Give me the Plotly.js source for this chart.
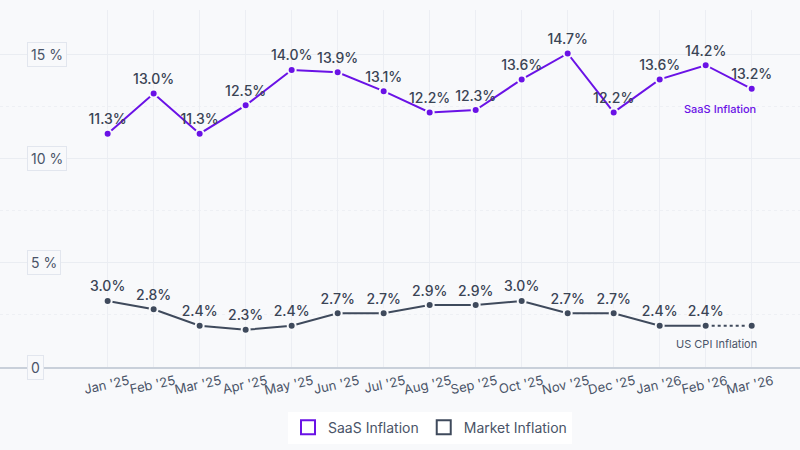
<!DOCTYPE html>
<html>
<head>
<meta charset="utf-8">
<script src="https://cdn.plot.ly/plotly-3.0.1.min.js"></script>
<style>
  html, body { margin: 0; padding: 0; background: #f8f9fb; }
  #chart { width: 800px; height: 450px; }
</style>
</head>
<body>
<div id="chart"></div>
<script>
const months = ["Jan '25", "Feb '25", "Mar '25", "Apr '25", "May '25", "Jun '25", "Jul '25",
  "Aug '25", "Sep '25", "Oct '25", "Nov '25", "Dec '25", "Jan '26", "Feb '26", "Mar '26"];
const saasInflation = [11.3, 13.0, 11.3, 12.5, 14.0, 13.9, 13.1, 12.2, 12.3, 13.6, 14.7, 12.2, 13.6, 14.2, 13.2];
const marketInflation = [3.0, 2.8, 2.4, 2.3, 2.4, 2.7, 2.7, 2.9, 2.9, 3.0, 2.7, 2.7, 2.4, 2.4, 2.4];
const marketActualCount = 14; // last value is a projection (dotted, unlabeled)
const yTickVals = [0, 5, 10, 15];
const yTickText = ["0", "5 %", "10 %", "15 %"];

const PURPLE = '#6a12e6';
const SLATE = '#3f4a5c';
const BG = '#f8f9fb';
const TEXT = '#4a5468';
const LABEL = '#3a4455';
const FONT = 'Inter, "Noto Sans", sans-serif';

const fmt = v => v.toFixed(1) + '%';

const traces = [
  {
    x: months, y: saasInflation, yaxis: 'y2',
    type: 'scatter', mode: 'lines+markers+text',
    text: saasInflation.map(fmt), textposition: 'top center',
    textfont: { family: FONT, size: 14, color: LABEL, weight: 500 },
    line: { color: PURPLE, width: 2 },
    marker: { color: PURPLE, size: 8, line: { color: BG, width: 2 } },
    showlegend: false, cliponaxis: false, hoverinfo: 'skip'
  },
  {
    x: months.slice(0, marketActualCount), y: marketInflation.slice(0, marketActualCount), yaxis: 'y3',
    type: 'scatter', mode: 'lines+markers+text',
    text: marketInflation.slice(0, marketActualCount).map(fmt), textposition: 'top center',
    textfont: { family: FONT, size: 14, color: LABEL, weight: 500 },
    line: { color: SLATE, width: 2 },
    marker: { color: SLATE, size: 8, line: { color: BG, width: 2 } },
    showlegend: false, cliponaxis: false, hoverinfo: 'skip'
  },
  {
    x: months.slice(marketActualCount - 1), y: marketInflation.slice(marketActualCount - 1), yaxis: 'y3',
    type: 'scatter', mode: 'lines+markers',
    line: { color: SLATE, width: 2, dash: 'dot' },
    marker: { color: SLATE, size: 8, line: { color: BG, width: 2 } },
    showlegend: false, cliponaxis: false, hoverinfo: 'skip'
  },
  {
    x: [null], y: [null], type: 'scatter', mode: 'markers', name: 'SaaS Inflation',
    marker: { symbol: 'square-open', size: 14, color: PURPLE, line: { width: 2, color: PURPLE } }
  },
  {
    x: [null], y: [null], type: 'scatter', mode: 'markers', name: 'Market Inflation',
    marker: { symbol: 'square-open', size: 14, color: SLATE, line: { width: 2, color: SLATE } }
  }
];

const annotations = yTickVals.map((v, i) => ({
  xref: 'paper', yref: 'y', x: 27 / 800, y: v, xanchor: 'left', yanchor: 'middle',
  text: yTickText[i], showarrow: false,
  font: { family: FONT, size: 14, color: TEXT },
  bgcolor: BG, bordercolor: '#e2e6ee', borderwidth: 1, borderpad: 3
}));
annotations.push({
  xref: 'paper', yref: 'paper', x: 720 / 800, y: (367 - 109) / 357, xanchor: 'center', yanchor: 'middle',
  text: 'SaaS Inflation', showarrow: false, font: { family: FONT, size: 11, color: PURPLE, weight: 500 }
});
annotations.push({
  xref: 'paper', yref: 'paper', x: 716 / 800, y: (367 - 344) / 357, xanchor: 'center', yanchor: 'middle',
  text: 'US CPI Inflation', showarrow: false, font: { family: FONT, size: 11, color: TEXT }
});

const layout = {
  width: 800, height: 450,
  paper_bgcolor: BG, plot_bgcolor: BG,
  margin: { l: 0, r: 0, t: 10, b: 83 },
  font: { family: FONT, color: TEXT },
  showlegend: true,
  legend: {
    orientation: 'h', x: 430 / 800, xanchor: 'center', y: -0.125, yanchor: 'top',
    bgcolor: '#ffffff', borderwidth: 0, itemwidth: 30,
    font: { family: FONT, size: 14, color: TEXT }
  },
  xaxis: {
    type: 'category', range: [-2.34, 15.05],
    showgrid: true, gridcolor: '#eceef3', gridwidth: 1,
    showline: true, linecolor: '#c9d0da', linewidth: 2,
    ticks: '', tickangle: -12, ticklabelshift: 21,
    tickfont: { family: FONT, size: 13, color: TEXT },
    fixedrange: true
  },
  yaxis: {
    range: [0, 17.16], tickvals: yTickVals, showticklabels: false,
    showgrid: true, gridcolor: '#eaedf2', zeroline: false, ticks: '',
    minor: { dtick: 2.5, showgrid: true, gridcolor: '#eef0f4', griddash: 'dot' },
    fixedrange: true
  },
  yaxis2: {
    overlaying: 'y', range: [1.414, 16.54], visible: false, showgrid: false, zeroline: false, fixedrange: true
  },
  yaxis3: {
    overlaying: 'y', range: [1.398, 10.06], visible: false, showgrid: false, zeroline: false, fixedrange: true
  },
  annotations: annotations
};

Plotly.newPlot('chart', traces, layout, { displayModeBar: false, staticPlot: true });
</script>
</body>
</html>
